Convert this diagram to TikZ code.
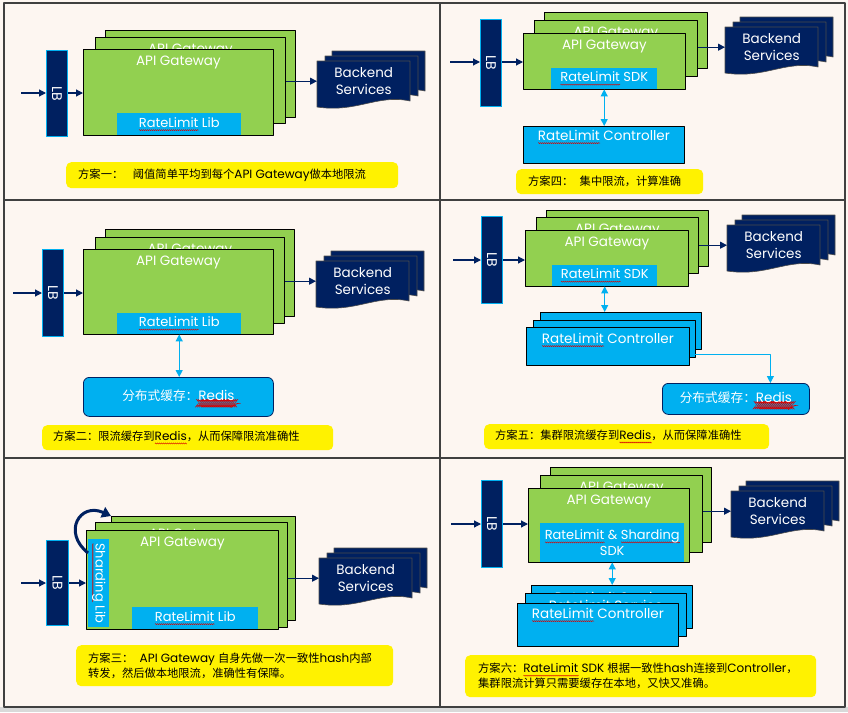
\documentclass[tikz,border=0pt]{standalone}
\usepackage{fontspec}
\usepackage{graphicx}
\setmainfont{Poppins}
\newfontfamily\cjk{Noto Sans CJK SC}[Scale=0.94]
\usetikzlibrary{arrows.meta,positioning,decorations.pathmorphing}
\definecolor{navyb}{RGB}{0,32,96}
\definecolor{gwgreen}{RGB}{146,208,80}
\definecolor{cyanb}{RGB}{0,176,240}
\definecolor{cream}{RGB}{253,246,241}
\definecolor{framec}{RGB}{64,64,64}
\newcommand\zh[1]{{\cjk #1}}
\newcommand\sq[2][white]{\setbox0=\hbox{#2}\rlap{\tikz[x=1pt,y=1pt,baseline=0pt]\draw[red!85!black,line width=0.4pt,decorate,decoration={zigzag,amplitude=0.6pt,segment length=2pt}] (0pt,-2.8pt) -- (\the\wd0,-2.8pt);}{\color{#1}#2}}
\newcommand\bx[7][]{\node[anchor=north west,inner sep=0pt,minimum width={#5-#3},minimum height={#6-#4},#1] (#2) at (#3,#4) {#7};}
\newcommand\gwl[1]{\node[wt] (#1t) at ([yshift=-13pt]#1.north) {API Gateway};}
\newcommand\docs[3]{%
  \foreach \ddx/\ddy in {15/-10,8/-5,0/0}
    \filldraw[doc] ({#2+\ddx},{#3+\ddy}) -- ({#2+\ddx+93},{#3+\ddy}) -- ({#2+\ddx+93},{#3+\ddy+40})
      .. controls ({#2+\ddx+60},{#3+\ddy+33}) and ({#2+\ddx+40},{#3+\ddy+52}) .. ({#2+\ddx},{#3+\ddy+46}) -- cycle;
  \bx[wt,align=center]{#1}{#2}{#3}{#2+93}{#3+40}{Backend\\Services}}
\begin{document}
\begin{tikzpicture}[x=1pt,y=-1pt,line join=round,>={Triangle[length=7pt,width=7pt]},
  gw/.style={draw=black,fill=gwgreen,line width=0.8pt},
  ctl/.style={draw=black,fill=cyanb,line width=0.8pt},
  lbx/.style={draw=cyanb,fill=navyb,line width=1pt,text=white,font=\fontsize{14}{16}\selectfont},
  lib/.style={fill=cyanb,text=white,font=\fontsize{13}{16}\selectfont},
  doc/.style={fill=navyb,draw=black!70,line width=0.6pt},
  wt/.style={text=white,inner sep=0pt,font=\fontsize{13.5}{17}\selectfont},
  redis/.style={draw=navyb,fill=cyanb,rounded corners=6pt,line width=0.8pt,text=white,font=\fontsize{13.5}{16}\selectfont},
  note/.style={fill=yellow,rounded corners=5pt},
  ntxt/.style={anchor=west,align=left,inner sep=0pt,font=\fontsize{12}{15}\selectfont},
  arr/.style={->,draw=navyb,line width=1.2pt},
  bar/.style={<->,draw=cyanb,line width=1.2pt},
  frame/.style={draw=framec,line width=1.5pt}]
\useasboundingbox (0,0) rectangle (848,712);
\fill[cream] (0,0) rectangle (848,712);
\fill[black!15] (0,707) rectangle (848,712);
\draw[frame] (4,3) rectangle (845,707);
\draw[frame] (440,3) -- (440,707);
\draw[frame] (4,200) -- (845,200);
\draw[frame] (4,458) -- (845,458);

% 方案一
\coordinate (i1) at (21,93);
\bx[lbx]{l1}{46}{50}{67}{136}{\rotatebox{-90}{LB}}
\draw[arr] (i1) -- (i1 -| l1.west);
\bx[gw]{g1b}{105}{30}{295}{117}{}
\bx[gw]{g1m}{95}{37}{285}{123}{} \gwl{g1m}
\bx[gw]{g1f}{83}{49}{273}{135}{} \gwl{g1f}
\draw[arr] (i1 -| l1.east) -- (i1 -| g1f.west);
\bx[lib]{lib1}{117}{113}{241}{135}{\sq{RateLimit} Lib}
\docs{b1}{317}{61}
\draw[arr] (g1m.east |- b1.west) -- (b1.west);
\bx[note]{n1}{66}{162}{398}{188}{}
\node[ntxt] (n1t) at ([xshift=12pt]n1.west) {\zh{方案一：}\ \ \ \zh{阈值简单平均到每个}API Gateway\zh{做本地限流}};

% 方案四
\coordinate (i4) at (450,62);
\bx[lbx]{l4}{480}{19}{501}{106}{\rotatebox{-90}{LB}}
\draw[arr] (i4) -- (i4 -| l4.west);
\bx[gw]{g4b}{544}{12}{707}{68}{}
\bx[gw]{g4m}{534}{20}{697}{76}{} \gwl{g4m}
\bx[gw]{g4f}{523}{33}{685}{89}{} \gwl{g4f}
\draw[arr] (i4 -| l4.east) -- (i4 -| g4f.west);
\bx[lib]{sdk4}{551}{68}{657}{89}{\sq{RateLimit} SDK}
\docs{b4}{725}{27}
\draw[arr] (g4m.east |- b4.west) -- (b4.west);
\bx[ctl]{c4}{523}{126}{684}{163}{}
\node[wt] (c4t) at ([yshift=-11pt]c4.north) {\sq{RateLimit} Controller};
\draw[bar] (sdk4.south) -- (sdk4.south |- c4.north);
\bx[note]{n4}{516}{169}{703}{194}{}
\node[ntxt] (n4t) at ([xshift=12pt]n4.west) {\zh{方案四：}\ \ \zh{集中限流，计算准确}};

% 方案二
\coordinate (i2) at (13,293);
\bx[lbx]{l2}{42}{249}{63}{336}{\rotatebox{-90}{LB}}
\draw[arr] (i2) -- (i2 -| l2.west);
\bx[gw]{g2b}{105}{229}{294}{316}{}
\bx[gw]{g2m}{95}{237}{284}{323}{} \gwl{g2m}
\bx[gw]{g2f}{83}{249}{273}{334}{} \gwl{g2f}
\draw[arr] (i2 -| l2.east) -- (i2 -| g2f.west);
\bx[lib]{lib2}{117}{313}{241}{334}{\sq{RateLimit} Lib}
\docs{b2}{316}{261}
\draw[arr] (g2m.east |- b2.west) -- (b2.west);
\bx[redis]{r2}{83}{377}{273}{416}{\zh{分布式缓存：}\sq{Redis}}
\draw[bar] (lib2.south) -- (lib2.south |- r2.north);
\bx[note]{n2}{42}{425}{333}{450}{}
\node[ntxt] (n2t) at ([xshift=11pt]n2.west) {\zh{方案二：限流缓存到}\sq[black]{Redis}\zh{，从而保障限流准确性}};

% 方案五
\coordinate (i5) at (453,260);
\bx[lbx]{l5}{481}{216}{502}{303}{\rotatebox{-90}{LB}}
\draw[arr] (i5) -- (i5 -| l5.west);
\bx[gw]{g5b}{546}{210}{708}{266}{}
\bx[gw]{g5m}{536}{217}{698}{273}{} \gwl{g5m}
\bx[gw]{g5f}{525}{230}{688}{286}{} \gwl{g5f}
\draw[arr] (i5 -| l5.east) -- (i5 -| g5f.west);
\bx[lib]{sdk5}{552}{265}{657}{286}{\sq{RateLimit} SDK}
\docs{b5}{727}{225}
\draw[arr] (g5m.east |- b5.west) -- (b5.west);
\bx[ctl]{c5b}{540}{312}{701}{349}{}
\bx[ctl]{c5m}{533}{320}{695}{357}{}
\bx[ctl]{c5f}{526}{327}{689}{365}{}
\node[wt] (c5t) at ([yshift=-13pt]c5f.north) {\sq{RateLimit} Controller};
\draw[bar] (sdk5.south) -- (sdk5.south |- c5b.north);
\bx[redis]{r5}{662}{383}{809}{414}{\zh{分布式缓存：}\sq{Redis}}
\draw[->,draw=cyanb,line width=0.8pt] ([yshift=-8pt]c5f.east) -| ([xshift=34.5pt]r5.north);
\bx[note]{n5}{484}{424}{769}{449}{}
\node[ntxt] (n5t) at ([xshift=11pt]n5.west) {\zh{方案五：集群限流缓存到}\sq[black]{Redis}\zh{，从而保障准确性}};

% 方案三
\coordinate (i3) at (21,583);
\bx[lbx]{l3}{46}{540}{68}{625}{\rotatebox{-90}{LB}}
\draw[arr] (i3) -- (i3 -| l3.west);
\bx[gw]{g3b}{111}{516}{295}{620}{}
\bx[gw]{g3m}{95}{522}{287}{627}{} \gwl{g3m}
\bx[gw]{g3f}{86}{530}{278}{629}{} \gwl{g3f}
\draw[arr] (i3 -| l3.east) -- (i3 -| g3f.west);
\bx[lib]{s3}{88}{539}{109}{627}{\rotatebox{-90}{\sq{Sharding} Lib}}
\bx[lib]{lib3}{132}{607}{258}{629}{\sq{RateLimit} Lib}
\draw[navyb,line width=3pt,-{Triangle[length=9pt,width=11pt]}] ([yshift=-14pt]s3.north west) .. controls (62,532) and (80,502) .. (g3b.north west);
\docs{b3}{319}{558}
\draw[arr] (g3m.east |- b3.west) -- (b3.west);
\bx[note]{n3}{76}{645}{393}{686}{}
\node[ntxt] (n3t) at ([xshift=12pt]n3.west) {\zh{方案三：}\ \ API Gateway \zh{自身先做一次一致性}hash\zh{内部}\\\zh{转发，然后做本地限流，准确性有保障。}};

% 方案六
\coordinate (i6) at (451,524);
\bx[lbx]{l6}{481}{480}{502}{567}{\rotatebox{-90}{LB}}
\draw[arr] (i6) -- (i6 -| l6.west);
\bx[gw]{g6b}{550}{467}{711}{542}{}
\bx[gw]{g6m}{540}{475}{702}{552}{} \gwl{g6m}
\bx[gw]{g6f}{528}{488}{689}{562}{} \gwl{g6f}
\draw[arr] (i6 -| l6.east) -- (i6 -| g6f.west);
\bx[lib,align=center]{sdk6}{540}{523}{684}{562}{\sq{RateLimit} \& \sq{Sharding}\\SDK}
\docs{b6}{731}{491}
\draw[arr] (g6m.east |- b6.west) -- (b6.west);
\bx[ctl]{c6b}{531}{585}{692}{628}{}
\node[wt] (c6bt) at ([yshift=-12pt]c6b.north) {RateLimit Service};
\bx[ctl]{c6m}{525}{593}{686}{636}{}
\node[wt] (c6mt) at ([yshift=-12pt]c6m.north) {RateLimit Service};
\bx[ctl]{c6f}{517}{603}{678}{646}{}
\node[wt] (c6t) at ([yshift=-12pt]c6f.north) {\sq{RateLimit} Controller};
\draw[bar] (sdk6.south) -- (sdk6.south |- c6b.north);
\bx[note]{n6}{465}{655}{816}{697}{}
\node[ntxt] (n6t) at ([xshift=13pt]n6.west) {\zh{方案六：}\sq[black]{RateLimit} SDK \zh{根据一致性}hash\zh{连接到}Controller\zh{，}\\\zh{集群限流计算只需要缓存在本地，又快又准确。}};
\end{tikzpicture}
\end{document}
